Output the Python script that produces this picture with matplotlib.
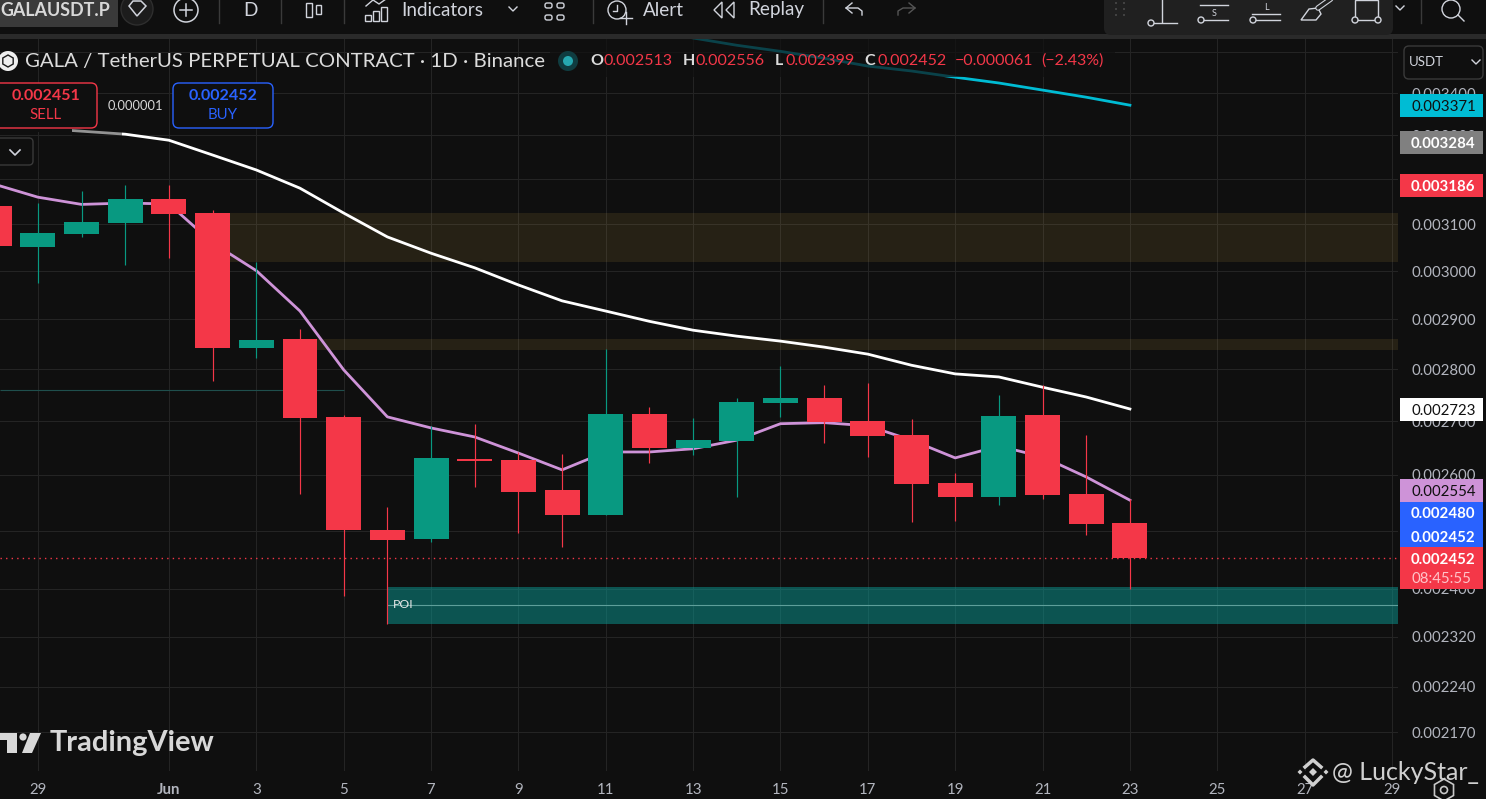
import pandas as pd
import matplotlib
matplotlib.use("Agg")
import matplotlib.pyplot as plt
from matplotlib.dates import date2num
from matplotlib.patches import Rectangle, FancyBboxPatch, Circle, Polygon, RegularPolygon

plt.rcParams['font.family'] = ['Lato', 'DejaVu Sans']

# daily candles, 28 May - 23 Jun
days = pd.date_range("2025-05-28", "2025-06-23")
opens = [0.003141, 0.003051, 0.003080, 0.003103, 0.003156, 0.003125, 0.002842, 0.002860, 0.002708,
         0.002501, 0.002485, 0.002629, 0.002627, 0.002572, 0.002528, 0.002714, 0.002649, 0.002662,
         0.002735, 0.002744, 0.002701, 0.002674, 0.002585, 0.002560, 0.002712, 0.002565, 0.002513]
highs = [0.003165, 0.003147, 0.003174, 0.003187, 0.003187, 0.003132, 0.003019, 0.002880, 0.002712,
         0.002542, 0.002691, 0.002695, 0.002642, 0.002638, 0.002840, 0.002727, 0.002705, 0.002744,
         0.002806, 0.002769, 0.002773, 0.002703, 0.002604, 0.002750, 0.002769, 0.002674, 0.002556]
lows = [0.003020, 0.002975, 0.003073, 0.003013, 0.003028, 0.002777, 0.002822, 0.002565, 0.002388,
        0.002341, 0.002480, 0.002578, 0.002496, 0.002472, 0.002528, 0.002622, 0.002636, 0.002560,
        0.002708, 0.002659, 0.002633, 0.002516, 0.002517, 0.002546, 0.002556, 0.002492, 0.002399]
closes = [0.003053, 0.003082, 0.003105, 0.003156, 0.003123, 0.002842, 0.002858, 0.002706, 0.002501,
          0.002484, 0.002631, 0.002625, 0.002569, 0.002528, 0.002714, 0.002649, 0.002664, 0.002737,
          0.002744, 0.002699, 0.002672, 0.002583, 0.002560, 0.002710, 0.002563, 0.002512, 0.002452]

# moving averages
ma_pink = [0.003189, 0.003160, 0.003144, 0.003147, 0.003145, 0.003060, 0.003001, 0.002917, 0.002799,
           0.002708, 0.002687, 0.002670, 0.002640, 0.002609, 0.002642, 0.002642, 0.002648, 0.002664,
           0.002695, 0.002697, 0.002691, 0.002664, 0.002631, 0.002653, 0.002633, 0.002596, 0.002554]
ma_white = [0.003324, 0.003317, 0.003310, 0.003303, 0.003289, 0.003255, 0.003221, 0.003180, 0.003125,
            0.003073, 0.003038, 0.003007, 0.002971, 0.002938, 0.002917, 0.002896, 0.002878, 0.002866,
            0.002856, 0.002844, 0.002830, 0.002808, 0.002791, 0.002785, 0.002765, 0.002746, 0.002723]
ma_cyan_days = pd.date_range("2025-06-13", "2025-06-23")
ma_cyan = [0.003534, 0.003516, 0.003501, 0.003484, 0.003465, 0.003453, 0.003438, 0.003424, 0.003407,
           0.003390, 0.003371]

# zones and levels
zone_upper = (pd.Timestamp("2025-06-02"), 0.003019, 0.003125)
zone_lower = (pd.Timestamp("2025-06-04"), 0.002838, 0.002860)
poi_start = pd.Timestamp("2025-06-06")
poi_low, poi_high, poi_mid = 0.002341, 0.002403, 0.002373
old_level, old_level_end = 0.002760, pd.Timestamp("2025-06-05")
last_price = 0.002452

price_ticks = [0.0035, 0.0034, 0.0033, 0.0032, 0.0031, 0.0030, 0.0029, 0.0028, 0.0027, 0.0026, 0.0025,
               0.0024, 0.00232, 0.00224, 0.00217]
time_ticks = pd.to_datetime(["2025-05-29", "2025-06-01", "2025-06-03", "2025-06-05", "2025-06-07",
                             "2025-06-09", "2025-06-11", "2025-06-13", "2025-06-15", "2025-06-17",
                             "2025-06-19", "2025-06-21", "2025-06-23", "2025-06-25", "2025-06-27",
                             "2025-06-29"])
time_labels = ["29", "Jun", "3", "5", "7", "9", "11", "13", "15", "17", "19", "21", "23", "25", "27", "29"]

BG = "#0f0f0f"
GRID = "#242424"
GREEN = "#089981"
RED = "#f43748"
AXIS_TXT = "#b2b5be"
ICON = "#d1d4dc"
TOOLBAR_PT = 13.6

fig = plt.figure(figsize=(14.86, 7.99), dpi=100, facecolor=BG)
ax = fig.add_axes([0, (799 - 771) / 799, 1398 / 1486, (771 - 38) / 799], facecolor=BG)
ax.set_yscale("log")
ax.set_ylim(0.0021114, 0.003534)
ax.set_xlim(pd.Timestamp("2025-05-28 03:10"), pd.Timestamp("2025-06-29 03:18"))
ax.set_axisbelow(True)
ax.grid(True, color=GRID, lw=0.75)
for s in ax.spines.values():
    s.set_visible(False)
ax.minorticks_off()
ax.yaxis.tick_right()
ax.set_yticks(price_ticks)
ax.set_yticklabels(["%.6f" % p for p in price_ticks], fontsize=10.8, color=AXIS_TXT)
ax.set_xticks(time_ticks)
ax.set_xticklabels(time_labels, fontsize=10.8, color=AXIS_TXT)
ax.get_xticklabels()[1].set_fontweight("bold")
ax.tick_params(axis="both", length=0)
ax.tick_params(axis="y", pad=9.5)
ax.tick_params(axis="x", pad=8.5)
ax.minorticks_off()

# zones
end = ax.get_xlim()[1]
ax.barh((zone_upper[1] + zone_upper[2]) / 2, end - date2num(zone_upper[0]),
        zone_upper[2] - zone_upper[1], left=zone_upper[0], color="#c39b44", alpha=0.13, lw=0, zorder=1)
ax.barh((zone_lower[1] + zone_lower[2]) / 2, end - date2num(zone_lower[0]),
        zone_lower[2] - zone_lower[1], left=zone_lower[0], color="#c39b44", alpha=0.13, lw=0, zorder=1)
ax.barh((poi_low + poi_high) / 2, end - date2num(poi_start),
        poi_high - poi_low, left=poi_start, color="#0a9a94", alpha=0.5, lw=0, zorder=1)
ax.hlines(poi_mid, poi_start, end, color="#5e9f9a", lw=0.8, zorder=1.2)
ax.text(poi_start + pd.Timedelta(hours=3), poi_mid, "POI", color="#e8e8e8", fontsize=8.8, va="center", zorder=4)
ax.hlines(old_level, ax.get_xlim()[0], old_level_end, color="#1f4f4d", lw=0.8, zorder=1.2)
ax.hlines(last_price, ax.get_xlim()[0], end, color=RED, lw=1, linestyles=(0, (1, 3)), zorder=1.3)

# moving averages under the candles
ax.plot(ma_cyan_days, ma_cyan, color="#00bcd4", lw=2, zorder=2, solid_joinstyle="round")
ax.plot(days, ma_white, color="#ffffff", lw=2, zorder=2, solid_joinstyle="round")
ax.plot(days, ma_pink, color="#ce93d8", lw=2, zorder=2, solid_joinstyle="round")

# candles
for d, o, h, l, c in zip(days, opens, highs, lows, closes):
    col = GREEN if c >= o else RED
    ax.vlines(d, l, h, color=col, lw=0.85, zorder=3)
    ax.bar(d, abs(c - o), 0.8, bottom=min(o, c), color=col, lw=0, zorder=3.5)

# everything below is screen furniture, in pixel coordinates
ui = fig.add_axes([0, 0, 1, 1], facecolor="none", zorder=10)
ui.set_xlim(0, 1486)
ui.set_ylim(799, 0)
ui.axis("off")

# fades behind the legend and the order buttons
ui.add_patch(Rectangle((550, 38), 565, 39, fc=BG, alpha=0.7, lw=0))
ui.add_patch(Rectangle((0, 84), 72, 48, fc=BG, lw=0))
ui.add_patch(Rectangle((72, 126), 50, 10, fc=BG, alpha=0.45, lw=0))

# toolbar
ui.add_patch(Rectangle((0, 0), 1486, 34, fc=BG, lw=0))
ui.add_patch(Rectangle((0, 34), 1486, 5, fc="#2a2a2a", lw=0))
ui.add_patch(Rectangle((0, 0), 118, 27, fc="#3a3a3a", lw=0))
ui.text(0, 10, "GALAUSDT.P", color="#d8d8d8", fontsize=12.9, fontweight="bold", va="center")
ui.add_patch(Circle((137, 9), 16, fc="#1c1c1c", ec="#2e2e2e", lw=1))
ui.add_patch(Polygon([[129, 6], [133, 1], [141, 1], [146, 6], [137, 16]], fc="none", ec=ICON, lw=1.1))
ui.add_patch(Circle((186, 10), 12, fc="none", ec=ICON, lw=1.1))
ui.plot([180, 192], [10, 10], color=ICON, lw=1.1)
ui.plot([186, 186], [4, 16], color=ICON, lw=1.1)
for x in [219, 281, 344, 593, 823]:
    ui.plot([x, x], [0, 23], color="#3a3a3a", lw=1)
ui.text(250, 10, "D", color=ICON, fontsize=TOOLBAR_PT, ha="center", va="center")
ui.add_patch(Rectangle((306, 3), 6, 14, fc="none", ec=ICON, lw=1))
ui.add_patch(Rectangle((316, 5), 5, 9, fc="none", ec=ICON, lw=1))
ui.plot([309, 309], [0, 22], color=ICON, lw=1, zorder=0)
ui.plot([318.5, 318.5], [0, 19], color=ICON, lw=1, zorder=0)
for x, h in [(368, 6), (376, 10), (384, 14)]:
    ui.add_patch(Rectangle((x - 3, 21 - h), 6, h, fc="none", ec=ICON, lw=1))
ui.plot([366, 373, 379, 386], [6, 0, 4, -1], color=ICON, lw=1)
ui.text(401, 10, "Indicators", color=ICON, fontsize=TOOLBAR_PT, va="center")
ui.plot([509, 513, 517], [7, 11, 7], color=ICON, lw=1)
for x in [545, 557]:
    for y in [3, 15]:
        ui.add_patch(FancyBboxPatch((x, y), 7, 5, boxstyle="round,pad=0,rounding_size=2", fc="none", ec=ICON, lw=1))
ui.add_patch(Circle((617, 10), 9, fc="none", ec=ICON, lw=1))
ui.plot([617, 617, 613], [5, 11, 11], color=ICON, lw=1)
ui.plot([626, 626], [12, 24], color=ICON, lw=1)
ui.plot([620, 632], [18, 18], color=ICON, lw=1)
ui.text(643, 10, "Alert", color=ICON, fontsize=TOOLBAR_PT, va="center")
ui.add_patch(Polygon([[722, 2], [714, 10], [722, 18]], fc="none", ec=ICON, lw=1))
ui.add_patch(Polygon([[734, 2], [726, 10], [734, 18]], fc="none", ec=ICON, lw=1))
ui.text(748, 10, "Replay", color=ICON, fontsize=TOOLBAR_PT, va="center")
ui.plot([852, 846, 852], [3, 8, 13], color=ICON, lw=1)
ui.plot([846, 858, 862, 862], [8, 8, 11, 15], color=ICON, lw=1)
ui.plot([909, 915, 909], [3, 8, 13], color="#555555", lw=1)
ui.plot([915, 903, 898, 898], [8, 8, 11, 15], color="#555555", lw=1)

# drawing tools panel
ui.add_patch(FancyBboxPatch((1104, -8), 289, 43, boxstyle="round,pad=0,rounding_size=7", fc="#202020", lw=0))
for y in [3, 9, 15]:
    for x in [1116, 1124]:
        ui.add_patch(Circle((x, y), 0.9, fc="#555555", lw=0))
ui.add_patch(Circle((1151, 23), 3, fc="none", ec=ICON, lw=1))
ui.plot([1154, 1177], [23, 23], color=ICON, lw=1)
ui.plot([1162, 1162], [0, 22], color=ICON, lw=1)
ui.add_patch(Circle((1201, 20), 3, fc="none", ec=ICON, lw=1))
ui.plot([1204, 1228], [20, 20], color=ICON, lw=1)
ui.plot([1200, 1228], [5, 5], color=ICON, lw=1)
ui.text(1214, 13, "S", color=ICON, fontsize=6.5, ha="center", va="center")
ui.add_patch(Circle((1253, 20), 3, fc="none", ec=ICON, lw=1))
ui.plot([1256, 1280], [20, 20], color=ICON, lw=1)
ui.plot([1252, 1280], [14, 14], color=ICON, lw=1)
ui.text(1266, 7, "L", color=ICON, fontsize=6.5, ha="center", va="center")
ui.add_patch(Polygon([[1301, 20], [1309, 9], [1318, 8], [1321, 14], [1316, 20]], fc="none", ec=ICON, lw=1))
ui.plot([1318, 1332], [8, -2], color=ICON, lw=4, solid_capstyle="round")
ui.plot([1318, 1332], [8, -2], color="#202020", lw=2.4, solid_capstyle="round")
ui.add_patch(Rectangle((1355, 0), 23, 20, fc="none", ec=ICON, lw=1))
ui.add_patch(Circle((1355, 20), 3, fc="#202020", ec=ICON, lw=1))
ui.add_patch(Circle((1378, 20), 3, fc="#202020", ec=ICON, lw=1))
ui.plot([1396, 1400, 1404], [6, 10, 6], color=ICON, lw=1)
ui.plot([1421, 1421], [0, 23], color="#3a3a3a", lw=1)
ui.add_patch(Circle((1451, 9), 9, fc="none", ec=ICON, lw=1))
ui.plot([1458, 1464], [15, 21], color=ICON, lw=1)

# header
ui.add_patch(Circle((8, 61), 10, fc="#efefef", lw=0))
ui.add_patch(RegularPolygon((8, 61), 6, radius=6, fc="none", ec="#1a1a1a", lw=1))
ui.text(25, 61, "GALA / TetherUS PERPETUAL CONTRACT · 1D · Binance", color="#dcdcdc", fontsize=14.7,
        va="center")
ui.add_patch(Circle((568, 61), 10, fc="#0f3c40", lw=0))
ui.add_patch(Circle((568, 61), 5, fc="#26a8b0", lw=0))
for x, s in [(590, "O"), (683, "H"), (775, "L"), (864, "C")]:
    ui.text(x, 61, s, color="#dcdcdc", fontsize=11.5, fontweight="bold", va="center")
for x, s in [(603, "0.002513"), (695, "0.002556"), (785, "0.002399"), (877, "0.002452"),
             (955, "−0.000061"), (1041, "(−2.43%)")]:
    ui.text(x, 61, s, color=RED, fontsize=11.5, va="center")

# sell / buy buttons
ui.add_patch(FancyBboxPatch((-8, 83), 105, 45, boxstyle="round,pad=0,rounding_size=6", fc=BG, ec=RED, lw=1))
ui.text(46, 96, "0.002451", color=RED, fontsize=11.5, fontweight="bold", ha="center", va="center")
ui.text(46, 115, "SELL", color=RED, fontsize=10.8, ha="center", va="center")
ui.text(135, 106, "0.000001", color="#d8d8d8", fontsize=9.3, ha="center", va="center")
ui.add_patch(FancyBboxPatch((173, 83), 100, 45, boxstyle="round,pad=0,rounding_size=6", fc=BG, ec="#2962ff", lw=1))
ui.text(223, 96, "0.002452", color="#2962ff", fontsize=11.5, fontweight="bold", ha="center", va="center")
ui.text(223, 115, "BUY", color="#2962ff", fontsize=10.8, ha="center", va="center")
ui.add_patch(FancyBboxPatch((-8, 138), 41, 27, boxstyle="round,pad=0,rounding_size=4", fc=BG, ec="#3a3a3a", lw=1))
ui.plot([10, 15, 20], [150, 155, 150], color=ICON, lw=1.2)

# USDT selector
ui.add_patch(FancyBboxPatch((1404, 46), 79, 33, boxstyle="round,pad=0,rounding_size=5", fc=BG, ec="#3a3a3a", lw=1))
ui.text(1409, 62, "USDT", color=ICON, fontsize=9.5, va="center")
ui.plot([1472, 1476, 1480], [60, 64, 60], color=ICON, lw=1)

# price labels on the scale
tag_values = ["0.003371", "0.003284", "0.003186", "0.002723", "0.002554", "0.002480", "0.002452"]
tag_centres = [105.5, 142.5, 185.5, 409.5, 490, 513, 536]
tag_fills = ["#00bcd4", "#808080", RED, "#ffffff", "#ce93d8", "#2962ff", "#2962ff"]
tag_texts = ["#101010", "#ffffff", "#ffffff", "#101010", "#101010", "#ffffff", "#ffffff"]
for v, yc, f, t in zip(tag_values, tag_centres, tag_fills, tag_texts):
    ui.add_patch(Rectangle((1400, yc - 11.5), 83, 23, fc=f, lw=0))
    ui.text(1411, yc + 1.5, v, color=t, fontsize=10.8, fontweight="bold" if t == "#ffffff" else "normal", va="center")
ui.add_patch(Rectangle((1400, 547), 83, 42, fc=RED, lw=0))
ui.text(1411, 560, "0.002452", color="#ffffff", fontsize=10.8, fontweight="bold", va="center")
ui.text(1411, 579, "08:45:55", color="#ffc4c9", fontsize=10.8, va="center")

# watermarks
ui.add_patch(Rectangle((0, 733), 17, 7, fc="#d8d8d8", lw=0))
ui.add_patch(Rectangle((7, 733), 10, 20, fc="#d8d8d8", lw=0))
ui.add_patch(Circle((23, 737), 3.6, fc="#d8d8d8", lw=0))
ui.add_patch(Polygon([[30, 733], [41, 733], [32, 753], [22, 753]], fc="#d8d8d8", lw=0))
ui.text(50, 743, "TradingView", color="#d8d8d8", fontsize=20.9, fontweight="bold", va="center")
for cx, cy, r in [(1313, 772, 4), (1300, 772, 2.5), (1326, 772, 2.5)]:
    ui.add_patch(RegularPolygon((cx, cy), 4, radius=r, fc="#d0d0d0", lw=0))
ui.plot([1305, 1313, 1321], [767, 760, 767], color="#d0d0d0", lw=2.5)
ui.plot([1305, 1313, 1321], [777, 785, 777], color="#d0d0d0", lw=2.5)
ui.text(1332, 772, "@ LuckyStar_", color="#d0d0d0", fontsize=18, va="center")
ui.add_patch(RegularPolygon((1444, 790), 6, radius=11, fc="none", ec="#c8c8c8", lw=1.2))
ui.add_patch(Circle((1444, 790), 3.5, fc="none", ec="#c8c8c8", lw=1.2))

fig.savefig("out.png", dpi=100, facecolor=BG)
